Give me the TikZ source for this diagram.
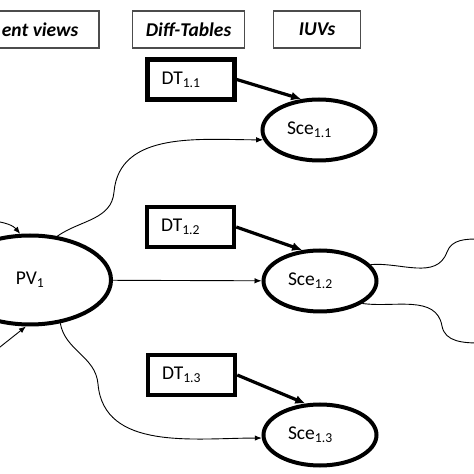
\documentclass[tikz,border=0pt]{standalone}
\usepackage{fontspec}
\setmainfont{Carlito}
\usetikzlibrary{arrows.meta, shapes.geometric}

\begin{document}
\begin{tikzpicture}[x=1pt, y=1pt,
hdr/.style = {draw=black!70, line width=1.3pt, minimum height=37pt, font=\fontsize{19.5}{22}\selectfont\bfseries\itshape},
dtbox/.style = {draw, line width=4.5pt, minimum height=40pt, inner xsep=14pt, text width=59pt, align=left, font=\fontsize{19.5}{22}\selectfont},
sce/.style = {draw, ellipse, line width=4pt, minimum width=113pt, minimum height=61pt, inner sep=0pt, text width=64pt, align=left, font=\fontsize{19.5}{22}\selectfont},
conn/.style = {line width=0.9pt, -{Latex[length=7pt, width=5.5pt]}},
dtarr/.style = {line width=3.2pt, -{Latex[length=10pt, width=9pt]}}]
\useasboundingbox (0,0) rectangle (474,474);
\node[hdr, minimum width=151pt] (hpv) at (23.5,444.5) {};
\node[hdr, draw=none, anchor=east, inner xsep=0pt] (hpvtext) at (79,444.5) {ent views};
\node[hdr, minimum width=112pt] (hdt) at (188.5,444.5) {Diff-Tables};
\node[hdr, minimum width=87pt] (hiuv) at (317,444.5) {IUVs};
\node[draw, ellipse, line width=4pt, minimum width=162pt, minimum height=89pt, font=\fontsize{19.5}{22}\selectfont] (pv) at (30,194) {PV\textsubscript{1}};
\node[dtbox] (dt11) at (191,394.5) {DT\textsubscript{1.1}};
\node[dtbox] (dt12) at (190.5,247) {DT\textsubscript{1.2}};
\node[dtbox] (dt13) at (191.5,99) {DT\textsubscript{1.3}};
\node[sce] (sce11) at (319,344) {Sce\textsubscript{1.1}};
\node[sce] (sce12) at (320,193) {Sce\textsubscript{1.2}};
\node[sce] (sce13) at (320,39) {Sce\textsubscript{1.3}};
\coordinate (inA) at (-5,253);
\coordinate (inB) at (-5,123);
\coordinate (outA) at (480,235);
\coordinate (outB) at (480,131);
\draw[conn] (inA) to[out=-10, in=130] (pv.102);
\draw[conn] (inB) -- (pv.265);
\draw[conn] (pv.58) to[out=35, in=-95] (114,282) to[out=85, in=180] (sce11.190);
\draw[conn] (pv) -- (sce12);
\draw[conn] (pv.-55) to[out=-80, in=95] (98,90) to[out=-85, in=180] (sce13.183);
\draw[dtarr] (dt11.east) -- (sce11.120);
\draw[dtarr] (dt12.east) -- (sce12.120);
\draw[dtarr] (dt13.east) -- (sce13.115);
\draw[line width=0.9pt] (sce12.18) to[out=5, in=-110] (447,222) to[out=70, in=180] (outA);
\draw[line width=0.9pt] (sce12.-28) to[out=-8, in=100] (442,148) to[out=-80, in=180] (outB);
\end{tikzpicture}
\end{document}
